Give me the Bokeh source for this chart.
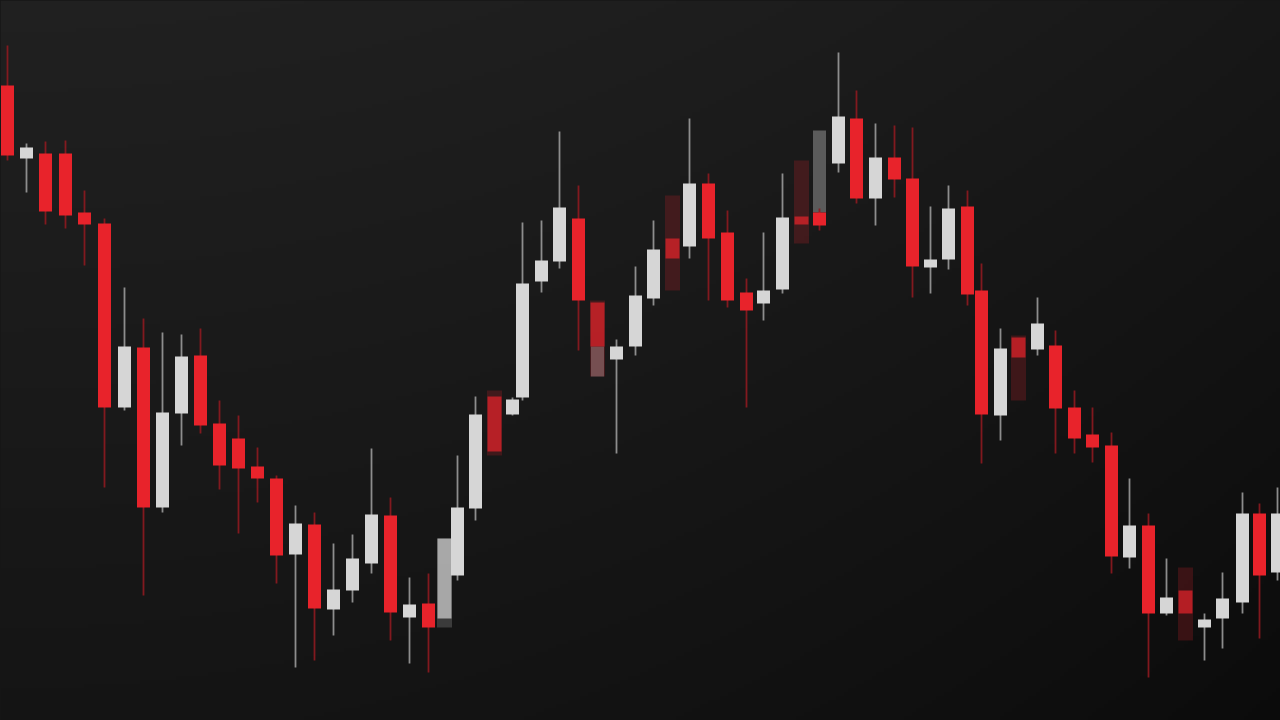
import numpy as np
from bokeh.plotting import figure
from bokeh.models import ColumnDataSource, Range1d
from bokeh.embed import file_html
from bokeh.resources import INLINE

# ---- data (price units) ----
t = [7, 26, 45, 65, 84, 104, 124, 143, 162, 181, 200, 219, 238, 257, 276, 295, 314, 333, 352, 371,
     390, 409, 428, 444, 457, 475, 494, 512, 522, 541, 559, 578, 597, 616, 635, 653, 672, 689, 708, 727,
     746, 763, 782, 801, 819, 838, 856, 875, 894, 912, 930, 948, 967, 981, 1000, 1018, 1037, 1055, 1074, 1092,
     1111, 1129, 1148, 1166, 1185, 1204, 1222, 1242, 1259, 1277]
open_ = [635, 562, 567, 567, 508, 497, 313, 373, 213, 307, 365, 297, 282, 254, 242, 166, 196, 111, 130, 157,
         205, 103, 117, 102, 145, 212, 324, 306, 323, 439, 459, 502, 418, 361, 374, 422, 482, 474, 537, 488,
         428, 417, 431, 504, 508, 557, 602, 522, 563, 542, 453, 461, 514, 430, 305, 383, 371, 375, 313, 286,
         275, 163, 195, 107, 130, 93, 102, 118, 207, 148]
high = [675, 577, 579, 580, 530, 502, 433, 402, 388, 386, 392, 320, 305, 273, 245, 215, 208, 177, 186, 272,
        223, 143, 147, 182, 265, 324, 330, 323, 498, 500, 589, 535, 420, 381, 454, 500, 525, 602, 547, 510,
        442, 488, 547, 560, 512, 668, 630, 597, 595, 593, 514, 535, 530, 457, 392, 385, 423, 390, 330, 313,
        288, 242, 207, 162, 153, 107, 148, 228, 217, 233]
low = [560, 528, 496, 492, 455, 233, 310, 125, 208, 275, 287, 231, 187, 218, 137, 53, 60, 85, 118, 147,
       80, 57, 48, 93, 140, 200, 265, 305, 320, 428, 452, 370, 344, 267, 365, 415, 430, 462, 420, 413,
       313, 400, 427, 477, 490, 548, 517, 495, 523, 423, 427, 451, 415, 257, 280, 320, 365, 267, 267, 258,
       147, 152, 43, 105, 80, 60, 72, 107, 82, 140]
close = [565, 573, 509, 505, 496, 313, 374, 213, 308, 364, 295, 255, 252, 242, 165, 197, 112, 131, 162, 206,
         108, 116, 93, 182, 213, 306, 269, 321, 437, 460, 513, 420, 374, 374, 425, 471, 462, 537, 482, 420,
         410, 430, 503, 496, 495, 604, 522, 563, 541, 454, 461, 512, 426, 306, 372, 363, 397, 312, 282, 273,
         164, 195, 107, 123, 107, 101, 122, 207, 145, 207]
blurred = [23, 26, 32, 36, 43, 55, 64]          # candles caught in motion blur
ghost_t = [597, 819]                             # faint trailing ghost bodies
ghost_top = [374, 590]
ghost_bottom = [344, 508]

RED, RED_WICK = "#e8232b", "#8e1a20"
WHITE, WHITE_WICK = "#d6d6d6", "#9a9a9a"

n = len(t)
up = [close[i] >= open_[i] for i in range(n)]
sharp = [i for i in range(n) if i not in blurred]

def src(idx):
    return ColumnDataSource(dict(
        x=[t[i] for i in idx],
        top=[max(open_[i], close[i]) for i in idx],
        bottom=[min(open_[i], close[i]) for i in idx],
        high=[high[i] for i in idx],
        low=[low[i] for i in idx],
        fill=[WHITE if up[i] else RED for i in idx],
        wick=[WHITE_WICK if up[i] else RED_WICK for i in idx],
    ))

W, H = 1280, 720
p = figure(width=W, height=H, output_backend="svg", toolbar_location=None,
           x_range=Range1d(0, 1280), y_range=Range1d(0, 720),
           min_border=0, border_fill_color="#171717", outline_line_color=None,
           background_fill_color="#171717")
p.axis.visible = False
p.grid.visible = False

# background vignette (lighter top-left, darker bottom/right)
gh, gw = 180, 320
yy, xx = np.mgrid[0:gh, 0:gw]
yf = yy / (gh - 1)          # 0 bottom -> 1 top
xf = xx / (gw - 1)
v = 20 + 12 * yf - 9 * xf ** 2
v = np.clip(np.round(v), 0, 255).astype(np.uint32)
img = (np.uint32(255) << 24) | (v << 16) | (v << 8) | v
p.image_rgba(image=[img.astype(np.uint32)], x=0, y=0, dw=1280, dh=720)

# ghost bodies
gs = ColumnDataSource(dict(x=ghost_t, top=ghost_top, bottom=ghost_bottom))
p.vbar(x="x", top="top", bottom="bottom", width=13, source=gs,
       fill_color=WHITE, fill_alpha=0.35, line_color=None)

# blurred candles: glow + soft body
bs = src(blurred)
p.vbar(x="x", top="high", bottom="low", width=15, source=bs,
       fill_color="fill", fill_alpha=0.2, line_color=None)
p.vbar(x="x", top="top", bottom="bottom", width=14, source=bs,
       fill_color="fill", fill_alpha=0.7, line_color=None)

# sharp candles
ss = src(sharp)
p.segment(x0="x", y0="high", x1="x", y1="low", source=ss,
          line_color="wick", line_width=1.8, line_alpha=0.9)
p.vbar(x="x", top="top", bottom="bottom", width=13, source=ss,
       fill_color="fill", line_color=None)

template = """
{% block postamble %}
<style>html, body{background:#171717; margin:0; overflow:hidden;}</style>
{% endblock %}
"""

open("out.html", "w").write(file_html(p, INLINE, template=template))
